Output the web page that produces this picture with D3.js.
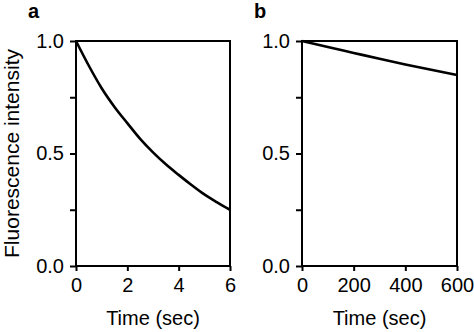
<!DOCTYPE html>
<html>
<head>
<meta charset="utf-8">
<script src="https://cdn.jsdelivr.net/npm/d3@7"></script>
<style>
  html, body { margin: 0; padding: 0; background: #fff; }
  svg { display: block; }
  text { font-family: "Liberation Sans", Arial, Helvetica, sans-serif; fill: #000; }
</style>
</head>
<body>
<svg id="chart" width="474" height="332"></svg>
<script>
// ---- data ----
const timeA = [0, 0.5, 1, 1.5, 2, 2.5, 3, 3.5, 4, 4.5, 5, 5.5, 6];           // sec
const intensityA = [1.0, 0.89, 0.79, 0.707, 0.635, 0.565, 0.505, 0.452, 0.405, 0.36, 0.318, 0.283, 0.25];
const timeB = [0, 100, 200, 300, 400, 500, 600];                             // sec
const intensityB = [1.0, 0.973, 0.947, 0.921, 0.896, 0.872, 0.849];
const xTicksA = [0, 2, 4, 6];
const xTicksB = [0, 200, 400, 600];
const yTicks = [0, 0.25, 0.5, 0.75, 1.0];
const yLabelTicks = [0, 0.5, 1.0];
const panelLabels = ["a", "b"];
const xTitle = "Time (sec)";
const yTitle = "Fluorescence intensity";

const svg = d3.select("#chart");
const FS = 20;
const plotTop = 41, plotBottom = 266;
const y = d3.scaleLinear().domain([0, 1]).range([plotBottom, plotTop]);

const panels = [
  { t: timeA, v: intensityA, xd: [0, 6], xr: [76, 230], xt: xTicksA, label: panelLabels[0], lx: 28 },
  { t: timeB, v: intensityB, xd: [0, 600], xr: [302, 457], xt: xTicksB, label: panelLabels[1], lx: 254 }
];

panels.forEach(p => {
  const x = d3.scaleLinear().domain(p.xd).range(p.xr);
  const g = svg.append("g");

  // y axis
  const ya = g.append("g")
    .attr("transform", `translate(${p.xr[0]},0)`)
    .call(d3.axisLeft(y).tickValues(yTicks).tickSize(6).tickPadding(6)
      .tickFormat(d => yLabelTicks.some(v => Math.abs(v - d) < 1e-9) ? d3.format(".1f")(d) : ""));
  ya.select(".domain").remove();
  ya.selectAll(".tick line").attr("stroke", "#000").attr("stroke-width", 2);
  ya.selectAll(".tick text").style("font-size", FS + "px").style("font-family", "Liberation Sans, Arial, sans-serif");

  // x axis
  const xa = g.append("g")
    .attr("transform", `translate(0,${plotBottom})`)
    .call(d3.axisBottom(x).tickValues(p.xt).tickSize(5).tickPadding(7).tickFormat(d3.format("d")));
  xa.select(".domain").remove();
  xa.selectAll(".tick line").attr("stroke", "#000").attr("stroke-width", 2);
  xa.selectAll(".tick text").style("font-size", FS + "px").style("font-family", "Liberation Sans, Arial, sans-serif");

  // frame
  g.append("rect")
    .attr("x", p.xr[0]).attr("y", plotTop)
    .attr("width", p.xr[1] - p.xr[0]).attr("height", plotBottom - plotTop)
    .attr("fill", "none").attr("stroke", "#000").attr("stroke-width", 2);

  // curve
  const line = d3.line()
    .x((d, i) => x(p.t[i]))
    .y(d => y(d))
    .curve(d3.curveMonotoneX);
  g.append("path")
    .datum(p.v)
    .attr("d", line)
    .attr("fill", "none")
    .attr("stroke", "#000")
    .attr("stroke-width", 2.6);

  // x title
  g.append("text")
    .attr("x", (p.xr[0] + p.xr[1]) / 2)
    .attr("y", 325)
    .attr("text-anchor", "middle")
    .style("font-size", FS + "px")
    .text(xTitle);

  // panel label
  g.append("text")
    .attr("x", p.lx)
    .attr("y", 18)
    .style("font-size", FS + "px")
    .style("font-weight", "bold")
    .text(p.label);
});

// y title
svg.append("text")
  .attr("transform", `translate(19,${(plotTop + plotBottom) / 2}) rotate(-90)`)
  .attr("text-anchor", "middle")
  .style("font-size", "21px")
  .text(yTitle);
</script>
</body>
</html>
